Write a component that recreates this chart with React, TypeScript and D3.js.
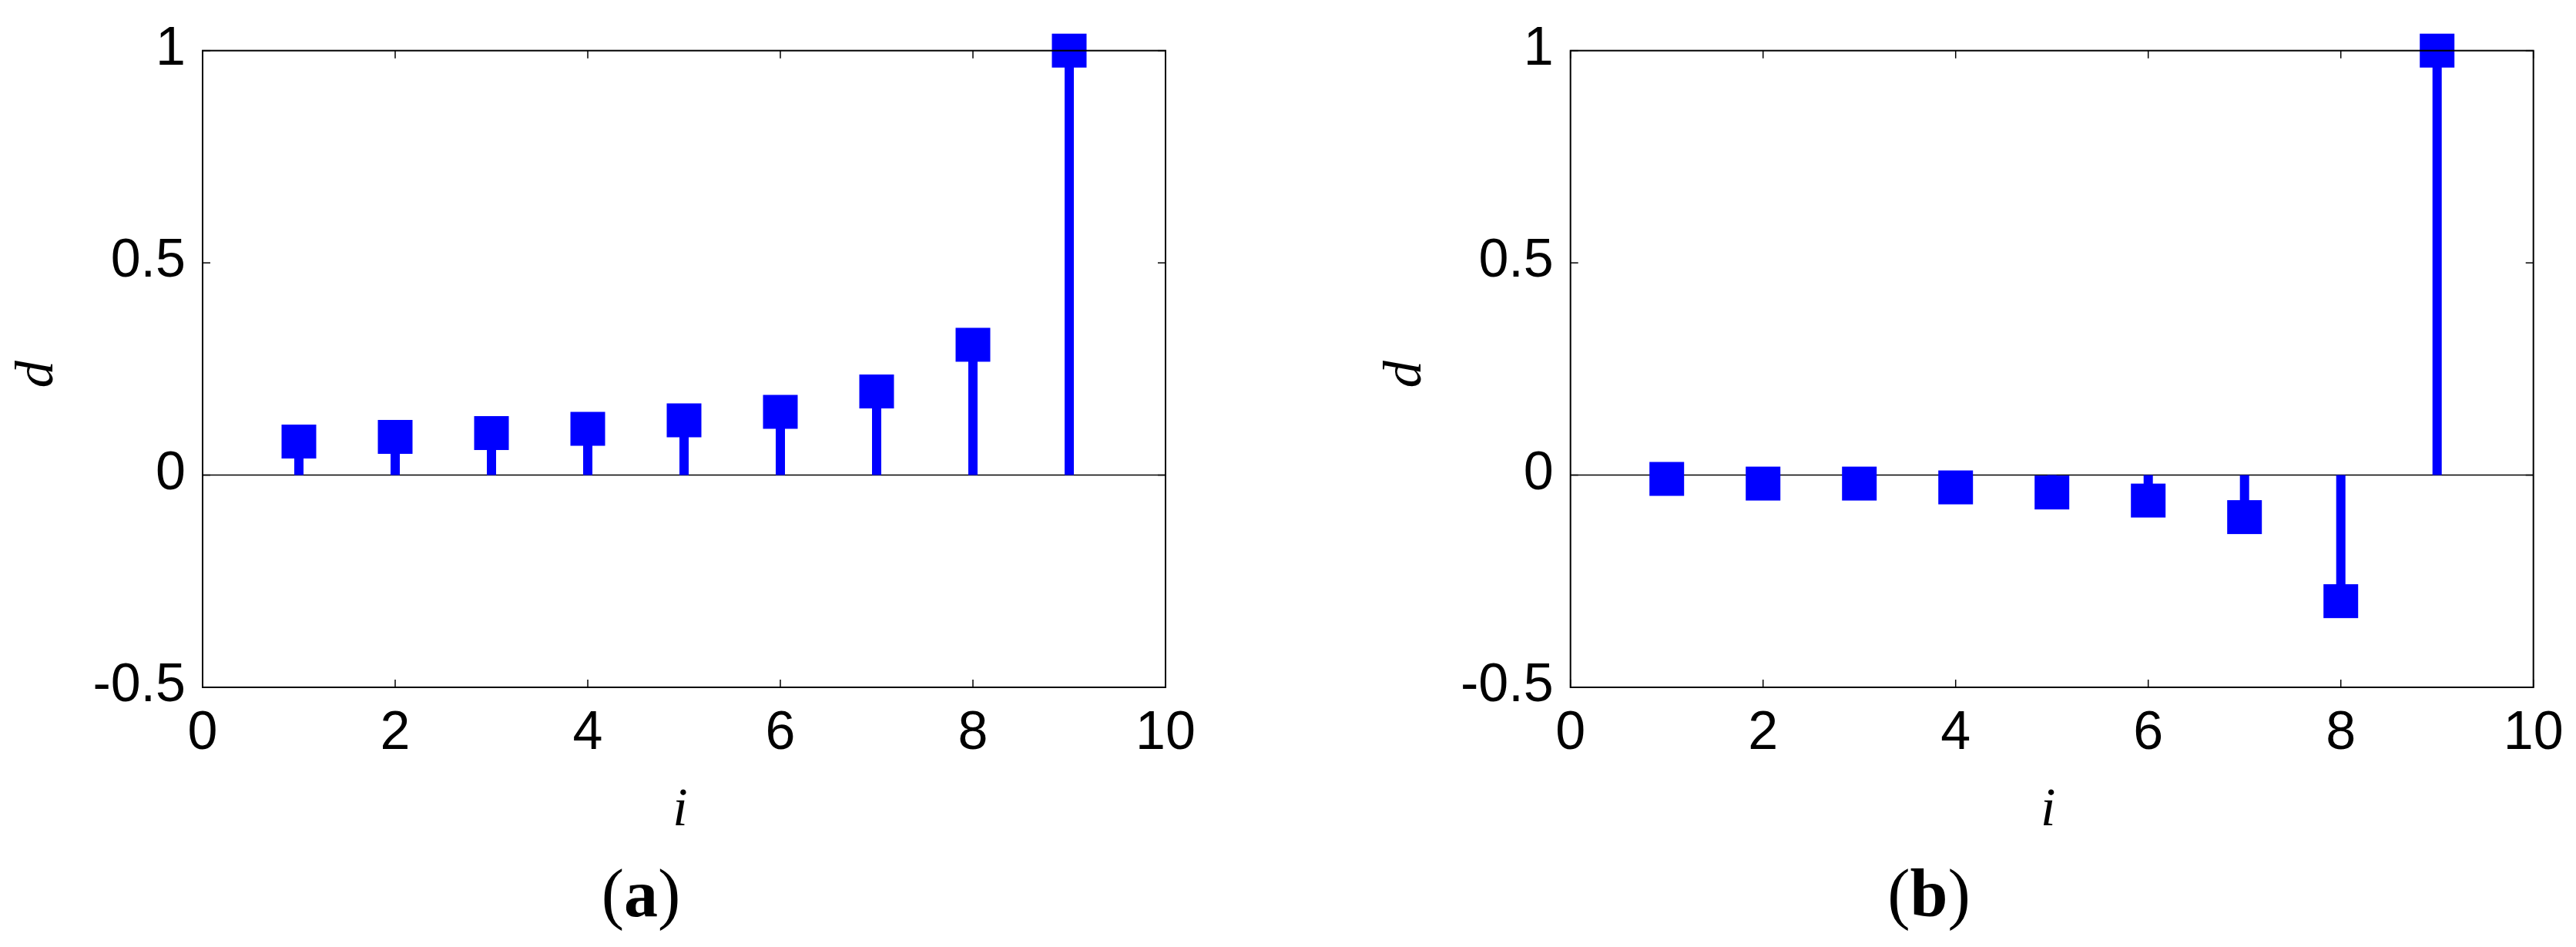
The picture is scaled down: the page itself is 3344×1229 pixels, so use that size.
import React, { useRef, useEffect } from "react";
import * as d3 from "d3";

// index i for both panels
const indices = [1, 2, 3, 4, 5, 6, 7, 8, 9];
// panel (a) values of d
const dA = [0.079, 0.09, 0.099, 0.109, 0.129, 0.149, 0.197, 0.307, 1.0];
// panel (b) values of d
const dB = [-0.009, -0.02, -0.02, -0.029, -0.041, -0.06, -0.099, -0.297, 1.0];

const xTicks = [0, 2, 4, 6, 8, 10];
const yTicks = [-0.5, 0, 0.5, 1];
const panelLabels = ["a", "b"];

const W = 3344;
const H = 1229;

const App: React.FC = () => {
  const ref = useRef<SVGSVGElement | null>(null);

  useEffect(() => {
    if (!ref.current) return;
    const root = d3.select(ref.current);
    root.selectAll("*").remove();

    const sans = "'Liberation Sans', Arial, Helvetica, sans-serif";
    const serif = "'Liberation Serif', 'Times New Roman', Times, serif";
    const blue = "#0000FF";

    const plotW = 1250;
    const top = 65.7;
    const bottom = 892;
    const lefts = [263, 2038.7];
    const centres = [W / 4, (3 * W) / 4];
    const series = [dA, dB];

    series.forEach((vals, p) => {
      const left = lefts[p];
      const x = d3.scaleLinear().domain([0, 10]).range([left, left + plotW]);
      const y = d3.scaleLinear().domain([-0.5, 1]).range([bottom, top]);

      const g = root.append("g");

      // zero line
      g.append("line")
        .attr("x1", x(0))
        .attr("x2", x(10))
        .attr("y1", y(0))
        .attr("y2", y(0))
        .attr("stroke", "#000")
        .attr("stroke-width", 1.5);

      // stems
      g.selectAll(".stem")
        .data(indices)
        .enter()
        .append("line")
        .attr("x1", (d) => x(d))
        .attr("x2", (d) => x(d))
        .attr("y1", y(0))
        .attr("y2", (d, i) => y(vals[i]))
        .attr("stroke", blue)
        .attr("stroke-width", 12);

      // square markers
      g.selectAll(".mark")
        .data(indices)
        .enter()
        .append("rect")
        .attr("x", (d) => x(d) - 22.5)
        .attr("y", (d, i) => y(vals[i]) - 22)
        .attr("width", 45)
        .attr("height", 44)
        .attr("fill", blue);

      // frame
      g.append("rect")
        .attr("x", x(0))
        .attr("y", y(1))
        .attr("width", plotW)
        .attr("height", y(-0.5) - y(1))
        .attr("fill", "none")
        .attr("stroke", "#000")
        .attr("stroke-width", 2);

      // inward ticks
      const tl = 10;
      xTicks.forEach((t) => {
        g.append("line")
          .attr("x1", x(t)).attr("x2", x(t))
          .attr("y1", bottom).attr("y2", bottom - tl)
          .attr("stroke", "#000").attr("stroke-width", 1.5);
        g.append("line")
          .attr("x1", x(t)).attr("x2", x(t))
          .attr("y1", top).attr("y2", top + tl)
          .attr("stroke", "#000").attr("stroke-width", 1.5);
        g.append("text")
          .attr("x", x(t))
          .attr("y", bottom + 80)
          .attr("text-anchor", "middle")
          .style("font-family", sans)
          .style("font-size", "70px")
          .text(String(t));
      });
      yTicks.forEach((t) => {
        g.append("line")
          .attr("x1", left).attr("x2", left + tl)
          .attr("y1", y(t)).attr("y2", y(t))
          .attr("stroke", "#000").attr("stroke-width", 1.5);
        g.append("line")
          .attr("x1", left + plotW).attr("x2", left + plotW - tl)
          .attr("y1", y(t)).attr("y2", y(t))
          .attr("stroke", "#000").attr("stroke-width", 1.5);
        g.append("text")
          .attr("x", left - 22)
          .attr("y", y(t) + 18)
          .attr("text-anchor", "end")
          .style("font-family", sans)
          .style("font-size", "70px")
          .text(String(t));
      });

      // axis labels
      g.append("text")
        .attr("x", left + plotW / 2 - 5)
        .attr("y", 1071)
        .attr("text-anchor", "middle")
        .style("font-family", serif)
        .style("font-style", "italic")
        .style("font-size", "70px")
        .text("i");

      g.append("text")
        .attr("transform", `translate(${left - 195},${(top + bottom) / 2 + 7}) rotate(-90)`)
        .attr("text-anchor", "middle")
        .style("font-family", serif)
        .style("font-style", "italic")
        .style("font-size", "70px")
        .text("d");

      // panel label
      const lab = g.append("text")
        .attr("x", centres[p] - 4)
        .attr("y", 1189)
        .attr("text-anchor", "middle")
        .style("font-family", serif)
        .style("font-size", "88px");
      lab.append("tspan").text("(");
      lab.append("tspan").style("font-weight", "bold").text(panelLabels[p]);
      lab.append("tspan").text(")");
    });
  }, []);

  return (
    <svg
      ref={ref}
      width={W}
      height={H}
      style={{ position: "absolute", left: 0, top: 0, background: "#fff" }}
    ></svg>
  );
};

export default App;
